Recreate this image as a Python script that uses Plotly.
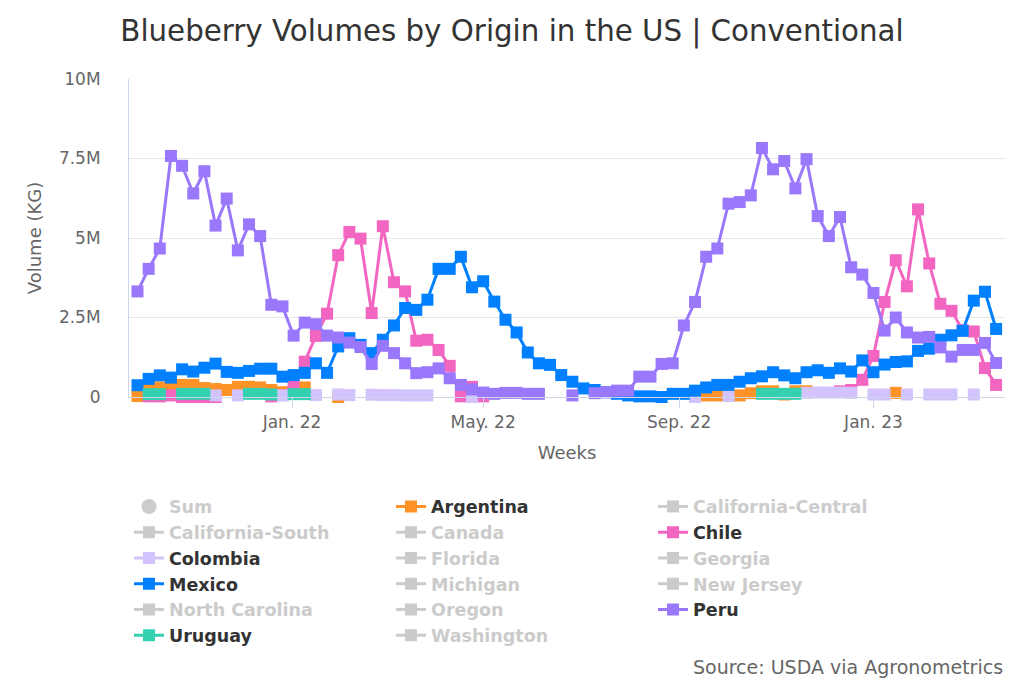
import pandas as pd
import plotly.graph_objects as go

N = None

# 78 weekly observations (week starting dates)
weeks = pd.date_range("2021-09-26", periods=78, freq="7D")

# Volumes in millions of kg
argentina = [0.03, 0.28, 0.30, 0.30, 0.38, 0.38, 0.28, 0.25, 0.22, 0.32,
             0.32, 0.30, 0.22, 0.15, 0.15, 0.30, N, N, 0.00, N,
             N, N, N, N, N, N, N, N, N, N,
             N, N, N, N, N, N, N, N, N, N,
             N, N, N, N, N, N, N, N, N, N,
             N, 0.05, 0.05, N, 0.05, 0.12, 0.18, 0.18, 0.08, 0.18,
             0.18, N, N, N, N, N, N, N, 0.13, N,
             N, N, N, N, N, N, N, N]

chile = [N, 0.02, 0.02, 0.05, 0.00, 0.00, 0.00, 0.00, N, N,
         N, N, 0.02, 0.06, 0.45, 1.11, 1.92, 2.62, 4.46, 5.19,
         4.98, 2.64, 5.37, 3.61, 3.32, 1.77, 1.80, 1.48, 0.98, 0.02,
         0.32, 0.02, N, N, N, N, N, N, N, N,
         N, N, N, N, N, N, N, N, N, N,
         N, N, N, N, N, N, N, N, N, N,
         N, N, N, 0.18, 0.22, 0.54, 1.29, 2.99, 4.30, 3.48,
         5.90, 4.20, 2.93, 2.71, 2.10, 2.06, 0.91, 0.38]

colombia = [N, N, N, N, N, N, N, 0.05, N, 0.05,
            N, N, N, 0.05, N, N, 0.06, N, 0.08, 0.06,
            N, 0.07, 0.06, 0.06, 0.05, 0.05, 0.05, N, N, N,
            0.00, N, N, N, N, N, N, N, N, N,
            N, N, N, N, N, N, N, N, N, N,
            0.00, N, N, 0.03, N, N, N, N, N, N,
            0.13, 0.14, 0.14, 0.14, 0.13, N, 0.08, 0.08, N, 0.08,
            N, 0.08, 0.08, 0.08, N, 0.08, N, N]

mexico = [0.37, 0.57, 0.68, 0.61, 0.87, 0.80, 0.92, 1.05, 0.79, 0.76,
          0.82, 0.89, 0.89, 0.64, 0.69, 0.76, 1.06, 0.76, 1.59, 1.85,
          1.64, 1.38, 1.80, 2.25, 2.80, 2.74, 3.06, 4.03, 4.03, 4.41,
          3.45, 3.64, 3.00, 2.43, 2.03, 1.40, 1.06, 1.01, 0.69, 0.48,
          0.27, 0.22, 0.15, 0.10, 0.05, 0.02, 0.02, 0.00, 0.10, 0.10,
          0.20, 0.30, 0.38, 0.38, 0.48, 0.59, 0.65, 0.78, 0.68, 0.59,
          0.78, 0.84, 0.76, 0.90, 0.80, 1.15, 0.78, 1.02, 1.10, 1.12,
          1.45, 1.52, 1.80, 1.94, 2.08, 3.03, 3.31, 2.14]

peru = [3.32, 4.03, 4.67, 7.58, 7.27, 6.40, 7.10, 5.39, 6.24, 4.61,
        5.43, 5.06, 2.90, 2.85, 1.93, 2.34, 2.29, 1.93, 1.87, 1.71,
        1.57, 1.04, 1.61, 1.38, 1.06, 0.75, 0.78, 0.90, 0.59, 0.38,
        0.24, 0.14, 0.10, 0.13, 0.13, 0.10, 0.10, N, N, 0.05,
        N, 0.12, 0.15, 0.20, 0.20, 0.64, 0.64, 1.04, 1.06, 2.25,
        2.99, 4.41, 4.67, 6.08, 6.13, 6.34, 7.83, 7.16, 7.42, 6.56,
        7.48, 5.69, 5.06, 5.66, 4.08, 3.85, 3.27, 2.09, 2.50, 2.03,
        1.87, 1.89, 1.56, 1.27, 1.48, 1.48, 1.70, 1.07]

uruguay = [N, 0.09, 0.09, N, 0.10, 0.10, 0.10, N, N, N,
           0.10, 0.10, 0.08, N, 0.09, 0.09, N, N, N, N,
           N, N, N, N, N, N, N, N, N, N,
           N, N, N, N, N, N, N, N, N, N,
           N, N, N, N, N, N, N, N, N, N,
           N, N, N, N, N, N, 0.10, 0.10, 0.10, 0.10,
           N, N, N, N, N, N, N, N, N, N,
           N, N, N, N, N, N, N, N]

series_order = ["Sum", "Argentina", "California-Central", "California-South", "Canada",
                "Chile", "Colombia", "Florida", "Georgia", "Mexico", "Michigan",
                "New Jersey", "North Carolina", "Oregon", "Peru", "Uruguay", "Washington"]

visible_data = {
    "Argentina": (argentina, "#fd9326"),
    "Chile": (chile, "#f266c1"),
    "Colombia": (colombia, "#d2c3fd"),
    "Mexico": (mexico, "#0080ff"),
    "Peru": (peru, "#9a78fc"),
    "Uruguay": (uruguay, "#33d1b0"),
}

y_tickvals = [0, 2.5, 5, 7.5, 10]
y_ticktext = ["0", "2.5M", "5M", "7.5M", "10M"]
x_tickvals = ["2022-01-01", "2022-05-01", "2022-09-01", "2023-01-01"]
x_ticktext = ["Jan. 22", "May. 22", "Sep. 22", "Jan. 23"]

FONT = "DejaVu Sans"

fig = go.Figure()
for name in series_order:
    if name in visible_data:
        vals, col = visible_data[name]
        fig.add_trace(go.Scatter(
            x=weeks, y=vals, name=name, mode="lines+markers",
            line=dict(color=col, width=3),
            marker=dict(symbol="square", size=12, color=col),
            cliponaxis=False, connectgaps=False,
        ))
    elif name == "Sum":
        fig.add_trace(go.Scatter(
            x=[None], y=[None], name='<span style="color:#999999">Sum</span>',
            mode="markers", visible="legendonly",
            marker=dict(symbol="circle", size=15, color="#999999"),
        ))
    else:
        fig.add_trace(go.Scatter(
            x=[None], y=[None], name='<span style="color:#999999">%s</span>' % name,
            mode="lines+markers", visible="legendonly",
            line=dict(color="#999999", width=3),
            marker=dict(symbol="square", size=12, color="#999999"),
        ))

fig.update_layout(
    width=1024, height=683,
    margin=dict(l=129, r=19, t=79, b=286),
    paper_bgcolor="white", plot_bgcolor="white",
    font=dict(family=FONT, color="#666666"),
    title=dict(
        text="Blueberry Volumes by Origin in the US | Conventional",
        x=0.5, xanchor="center", y=1 - 31 / 683, yanchor="middle",
        font=dict(family=FONT, size=29.3, color="#333333"),
    ),
    showlegend=True,
    legend=dict(
        orientation="h", x=0, xanchor="left", y=-0.288, yanchor="top",
        entrywidth=217, entrywidthmode="pixels",
        font=dict(family=FONT, size=17.5, color="#333333", weight="bold"),
        traceorder="normal", bgcolor="rgba(0,0,0,0)",
    ),
    annotations=[dict(
        text="Source: USDA via Agronometrics", xref="paper", yref="paper",
        x=1, y=-0.848, xanchor="right", yanchor="middle", showarrow=False,
        font=dict(family=FONT, size=19, color="#666666"),
    )],
)

fig.update_xaxes(
    type="date", range=["2021-09-20 16:00", "2023-03-24 14:00"],
    tickvals=x_tickvals, ticktext=x_ticktext,
    showgrid=False, zeroline=False,
    showline=True, linecolor="#ccd6eb", linewidth=1,
    ticks="outside", ticklen=10, tickcolor="#ccd6eb", tickwidth=1,
    tickfont=dict(family=FONT, size=17, color="#666666"),
    title=dict(text="Weeks", standoff=14, font=dict(family=FONT, size=18, color="#666666")),
)
fig.update_yaxes(
    range=[0, 10], tickvals=y_tickvals, ticktext=y_ticktext,
    showgrid=True, gridcolor="#e6e6e6", gridwidth=1, zeroline=False,
    showline=True, linecolor="#ccd6eb", linewidth=1,
    ticks="", ticklabelstandoff=24,
    tickfont=dict(family=FONT, size=17, color="#666666"),
    title=dict(text="Volume (KG)", standoff=12, font=dict(family=FONT, size=18, color="#666666")),
)

fig.write_html("out.html")
